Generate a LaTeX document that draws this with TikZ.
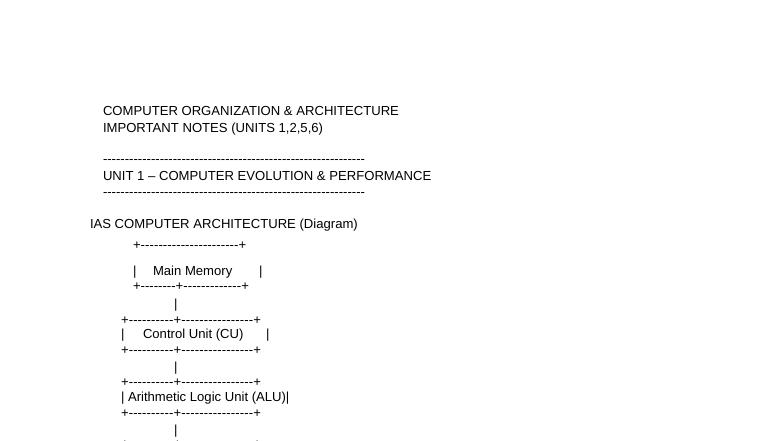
\documentclass[tikz,border=0pt]{standalone}
\usepackage{fontspec}
\setmainfont{Liberation Sans}
\tikzset{t/.style={anchor=base west,inner sep=0pt,outer sep=0pt,font=\fontsize{13.1}{15}\selectfont}}
\newcommand{\dfill}[1]{\hbox to #1pt{\xleaders\hbox{-}\hfill}}
\newcommand{\pline}[4]{% y, x1, xm, x2
  \node[t] at (#2,#1) {+\dfill{\the\numexpr #3-#2-8\relax}+\dfill{\the\numexpr #4-#3-16\relax}+};}
\begin{document}
\begin{tikzpicture}[x=1pt,y=-1pt]
\useasboundingbox (0,0) rectangle (784,441);
\node[t] (l1) at (103,116) {COMPUTER ORGANIZATION \& ARCHITECTURE};
\node[t] (l2) at (103,132) {IMPORTANT NOTES (UNITS 1,2,5,6)};
\node[t] (d1) at (103,164) {\dfill{262}};
\node[t] (l3) at (103,180) {UNIT 1 -- COMPUTER EVOLUTION \& PERFORMANCE};
\node[t] (d2) at (103,196) {\dfill{262}};
\node[t] (l4) at (90,228) {IAS COMPUTER ARCHITECTURE (Diagram)};
% Main memory box
\node[t] (a1) at (133,249) {+\dfill{98}+};
\node[t] (a2) at (133,275) {|};
\node[t] (a3) at (153,275) {Main Memory};
\node[t] (a4) at (259,275) {|};
\pline{290}{133}{176}{250}
\node[t] (a5) at (174,308) {|};
% CU
\pline{324}{121}{174}{262}
\node[t] (b1) at (121,338) {|};
\node[t] (b2) at (143,338) {Control Unit (CU)};
\node[t] (b3) at (266,338) {|};
\pline{354}{121}{174}{262}
\node[t] (b4) at (174,371) {|};
% ALU
\pline{386}{121}{174}{262}
\node[t] (c1) at (121,401) {| Arithmetic Logic Unit (ALU)|};
\pline{417}{121}{174}{262}
\node[t] (c2) at (174,434) {|};
\pline{448}{121}{174}{262}
\end{tikzpicture}
\end{document}
